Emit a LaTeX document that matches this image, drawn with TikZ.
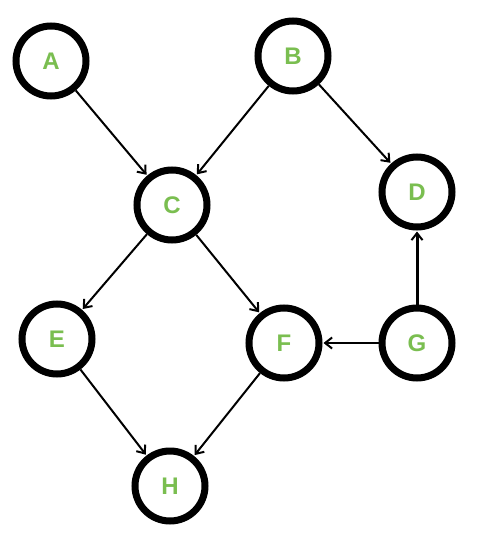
\documentclass[tikz,border=0pt]{standalone}
\usepackage{fontspec}
\setmainfont{Liberation Sans}
\usetikzlibrary{arrows.meta}
\definecolor{lblgreen}{RGB}{122,190,80}
\begin{document}
\begin{tikzpicture}[x=1pt,y=-1pt,
  vtx/.style={circle,draw=black,line width=7pt,fill=white,minimum size=70pt,inner sep=0pt,
    font=\fontsize{24}{24}\selectfont\bfseries,text=lblgreen},
  edge/.style={line width=2pt,-{Straight Barb[length=7pt,width=11pt,line width=2pt]},shorten >=1pt},
  thickedge/.style={edge,line width=3pt}]
\useasboundingbox (0,0) rectangle (482,533);
\node[vtx] (A) at (51,61) {A};
\node[vtx] (B) at (293,56) {B};
\node[vtx] (C) at (172,205) {C};
\node[vtx] (D) at (417,192) {D};
\node[vtx] (E) at (57,339) {E};
\node[vtx] (F) at (284,343) {F};
\node[vtx] (G) at (417,343) {G};
\node[vtx] (H) at (170,486) {H};
\draw[edge] (A) -- (C);
\draw[edge] (B) -- (C);
\draw[edge] (B) -- (D);
\draw[edge] (C) -- (E);
\draw[edge] (C) -- (F);
\draw[edge] (E) -- (H);
\draw[edge] (F) -- (H);
\draw[edge] (G) -- (F);
\draw[thickedge] (G) -- (D);
\end{tikzpicture}
\end{document}
